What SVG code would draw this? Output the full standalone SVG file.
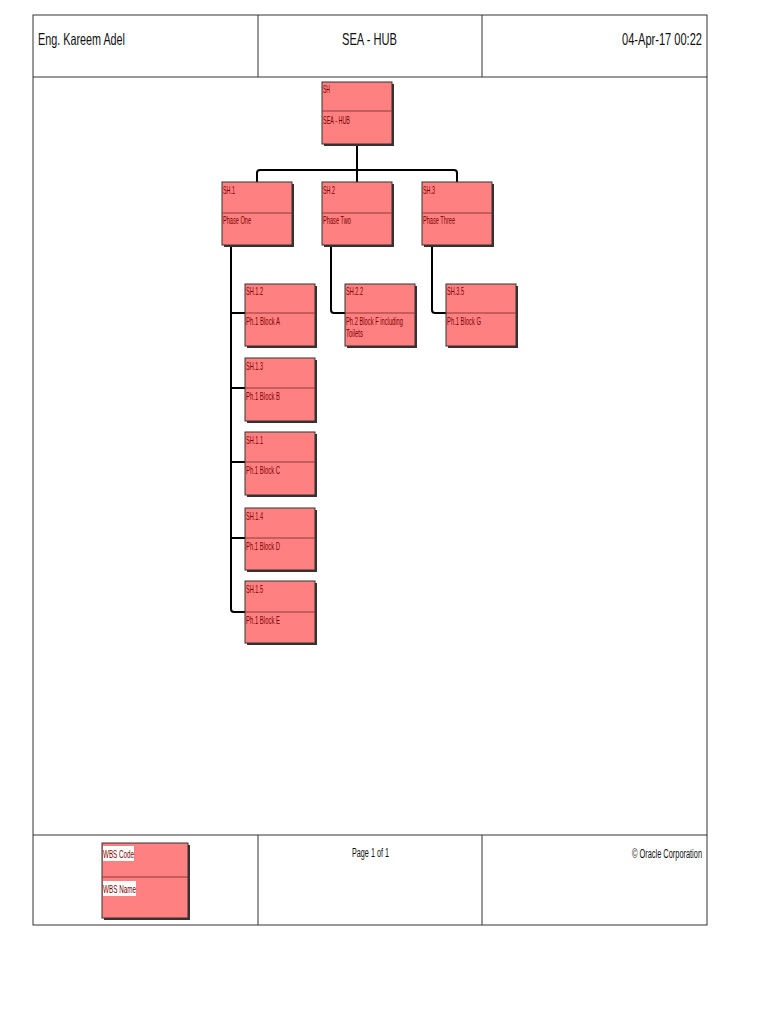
<svg xmlns="http://www.w3.org/2000/svg" width="768" height="1024" viewBox="0 0 768 1024">
<style>
.frame{fill:none;stroke:#333;stroke-width:1}
.sh{fill:#333}
.box{fill:#FF8080;stroke:#333;stroke-width:1}
.div{stroke:#8B3A3A;stroke-width:1}
.t{font-family:"Liberation Sans Narrow","Liberation Sans",Arial,sans-serif;font-size:10.5px;fill:#7A0000}
.h{font-family:"Liberation Sans Narrow","Liberation Sans",Arial,sans-serif;font-size:16.5px;fill:#111}
.f{font-family:"Liberation Sans Narrow","Liberation Sans",Arial,sans-serif;font-size:12.5px;fill:#111}
.con{fill:none;stroke:#000;stroke-width:2}
</style>
<rect width="768" height="1024" fill="#fff"/>
<g id="frame">
<rect class="frame" x="33" y="15" width="674" height="910"/>
<line class="frame" x1="33" y1="77" x2="707" y2="77"/>
<line class="frame" x1="33" y1="835" x2="707" y2="835"/>
<line class="frame" x1="258" y1="15" x2="258" y2="77"/>
<line class="frame" x1="482" y1="15" x2="482" y2="77"/>
<line class="frame" x1="258" y1="835" x2="258" y2="925"/>
<line class="frame" x1="482" y1="835" x2="482" y2="925"/>
<text class="h" x="38" y="45" textLength="87" lengthAdjust="spacingAndGlyphs">Eng. Kareem Adel</text>
<text class="h" x="342" y="45" textLength="55" lengthAdjust="spacingAndGlyphs">SEA - HUB</text>
<text class="h" x="622" y="45" textLength="80" lengthAdjust="spacingAndGlyphs">04-Apr-17 00:22</text>
<text class="f" x="352" y="857" textLength="37" lengthAdjust="spacingAndGlyphs">Page 1 of 1</text>
<text class="f" x="632" y="858" textLength="70" lengthAdjust="spacingAndGlyphs">© Oracle Corporation</text>
</g>
<g id="connectors">
<path class="con" d="M357 144 V182"/>
<path class="con" d="M257 182 V173 Q257 170 260 170 H454 Q457 170 457 173 V182"/>
<path class="con" d="M231 245 V609 Q231 612 234 612 H245 M231 313 H245 M231 388 H245 M231 462 H245 M231 538 H245"/>
<path class="con" d="M331 245 V310 Q331 313 334 313 H345"/>
<path class="con" d="M432 245 V310 Q432 313 435 313 H446"/>
</g>
<g id="n-SH">
<rect class="sh" x="324" y="84" width="70" height="62"/>
<rect class="box" x="322" y="82" width="70" height="62"/>
<line class="div" x1="322" y1="111" x2="392" y2="111"/>
<text class="t" x="323" y="93" textLength="7" lengthAdjust="spacingAndGlyphs">SH</text>
<text class="t" x="323" y="124" textLength="27" lengthAdjust="spacingAndGlyphs">SEA - HUB</text>
</g>
<g id="n-SH1">
<rect class="sh" x="224" y="184" width="70" height="63"/>
<rect class="box" x="222" y="182" width="70" height="63"/>
<line class="div" x1="222" y1="213" x2="292" y2="213"/>
<text class="t" x="223" y="194" textLength="12" lengthAdjust="spacingAndGlyphs">SH.1</text>
<text class="t" x="223" y="224" textLength="28" lengthAdjust="spacingAndGlyphs">Phase One</text>
</g>
<g id="n-SH2">
<rect class="sh" x="324" y="184" width="70" height="63"/>
<rect class="box" x="322" y="182" width="70" height="63"/>
<line class="div" x1="322" y1="213" x2="392" y2="213"/>
<text class="t" x="323" y="194" textLength="12" lengthAdjust="spacingAndGlyphs">SH.2</text>
<text class="t" x="323" y="224" textLength="28" lengthAdjust="spacingAndGlyphs">Phase Two</text>
</g>
<g id="n-SH3">
<rect class="sh" x="424" y="184" width="70" height="63"/>
<rect class="box" x="422" y="182" width="70" height="63"/>
<line class="div" x1="422" y1="213" x2="492" y2="213"/>
<text class="t" x="423" y="194" textLength="12" lengthAdjust="spacingAndGlyphs">SH.3</text>
<text class="t" x="423" y="224" textLength="32" lengthAdjust="spacingAndGlyphs">Phase Three</text>
</g>
<g id="n-SH12">
<rect class="sh" x="247" y="286" width="70" height="62"/>
<rect class="box" x="245" y="284" width="70" height="62"/>
<line class="div" x1="245" y1="313" x2="315" y2="313"/>
<text class="t" x="246" y="295" textLength="17" lengthAdjust="spacingAndGlyphs">SH.1.2</text>
<text class="t" x="246" y="325" textLength="34" lengthAdjust="spacingAndGlyphs">Ph.1 Block A</text>
</g>
<g id="n-SH22">
<rect class="sh" x="347" y="286" width="70" height="62"/>
<rect class="box" x="345" y="284" width="70" height="62"/>
<line class="div" x1="345" y1="313" x2="415" y2="313"/>
<text class="t" x="346" y="295" textLength="17" lengthAdjust="spacingAndGlyphs">SH.2.2</text>
<text class="t" x="346" y="325" textLength="57" lengthAdjust="spacingAndGlyphs">Ph.2 Block F including</text>
<text class="t" x="346" y="337" textLength="17" lengthAdjust="spacingAndGlyphs">Toilets</text>
</g>
<g id="n-SH35">
<rect class="sh" x="448" y="286" width="70" height="62"/>
<rect class="box" x="446" y="284" width="70" height="62"/>
<line class="div" x1="446" y1="313" x2="516" y2="313"/>
<text class="t" x="447" y="295" textLength="17" lengthAdjust="spacingAndGlyphs">SH.3.5</text>
<text class="t" x="447" y="325" textLength="34" lengthAdjust="spacingAndGlyphs">Ph.1 Block G</text>
</g>
<g id="n-SH13">
<rect class="sh" x="247" y="360" width="70" height="63"/>
<rect class="box" x="245" y="358" width="70" height="63"/>
<line class="div" x1="245" y1="388" x2="315" y2="388"/>
<text class="t" x="246" y="370" textLength="17" lengthAdjust="spacingAndGlyphs">SH.1.3</text>
<text class="t" x="246" y="400" textLength="34" lengthAdjust="spacingAndGlyphs">Ph.1 Block B</text>
</g>
<g id="n-SH11">
<rect class="sh" x="247" y="434" width="70" height="63"/>
<rect class="box" x="245" y="432" width="70" height="63"/>
<line class="div" x1="245" y1="462" x2="315" y2="462"/>
<text class="t" x="246" y="444" textLength="17" lengthAdjust="spacingAndGlyphs">SH.1.1</text>
<text class="t" x="246" y="474" textLength="34" lengthAdjust="spacingAndGlyphs">Ph.1 Block C</text>
</g>
<g id="n-SH14">
<rect class="sh" x="247" y="510" width="70" height="62"/>
<rect class="box" x="245" y="508" width="70" height="62"/>
<line class="div" x1="245" y1="538" x2="315" y2="538"/>
<text class="t" x="246" y="520" textLength="17" lengthAdjust="spacingAndGlyphs">SH.1.4</text>
<text class="t" x="246" y="550" textLength="34" lengthAdjust="spacingAndGlyphs">Ph.1 Block D</text>
</g>
<g id="n-SH15">
<rect class="sh" x="247" y="583" width="70" height="62"/>
<rect class="box" x="245" y="581" width="70" height="62"/>
<line class="div" x1="245" y1="612" x2="315" y2="612"/>
<text class="t" x="246" y="593" textLength="17" lengthAdjust="spacingAndGlyphs">SH.1.5</text>
<text class="t" x="246" y="624" textLength="34" lengthAdjust="spacingAndGlyphs">Ph.1 Block E</text>
</g>
<g id="legend">
<rect class="sh" x="104" y="845" width="86" height="75"/>
<rect class="box" x="102" y="843" width="86" height="75"/>
<line class="div" x1="102" y1="877" x2="188" y2="877"/>
<rect x="103" y="846" width="31" height="15" fill="#fff"/>
<rect x="103" y="881" width="33" height="15" fill="#fff"/>
<text class="t" x="103" y="858" textLength="31" lengthAdjust="spacingAndGlyphs">WBS Code</text>
<text class="t" x="103" y="893" textLength="33" lengthAdjust="spacingAndGlyphs">WBS Name</text>
</g>
</svg>
